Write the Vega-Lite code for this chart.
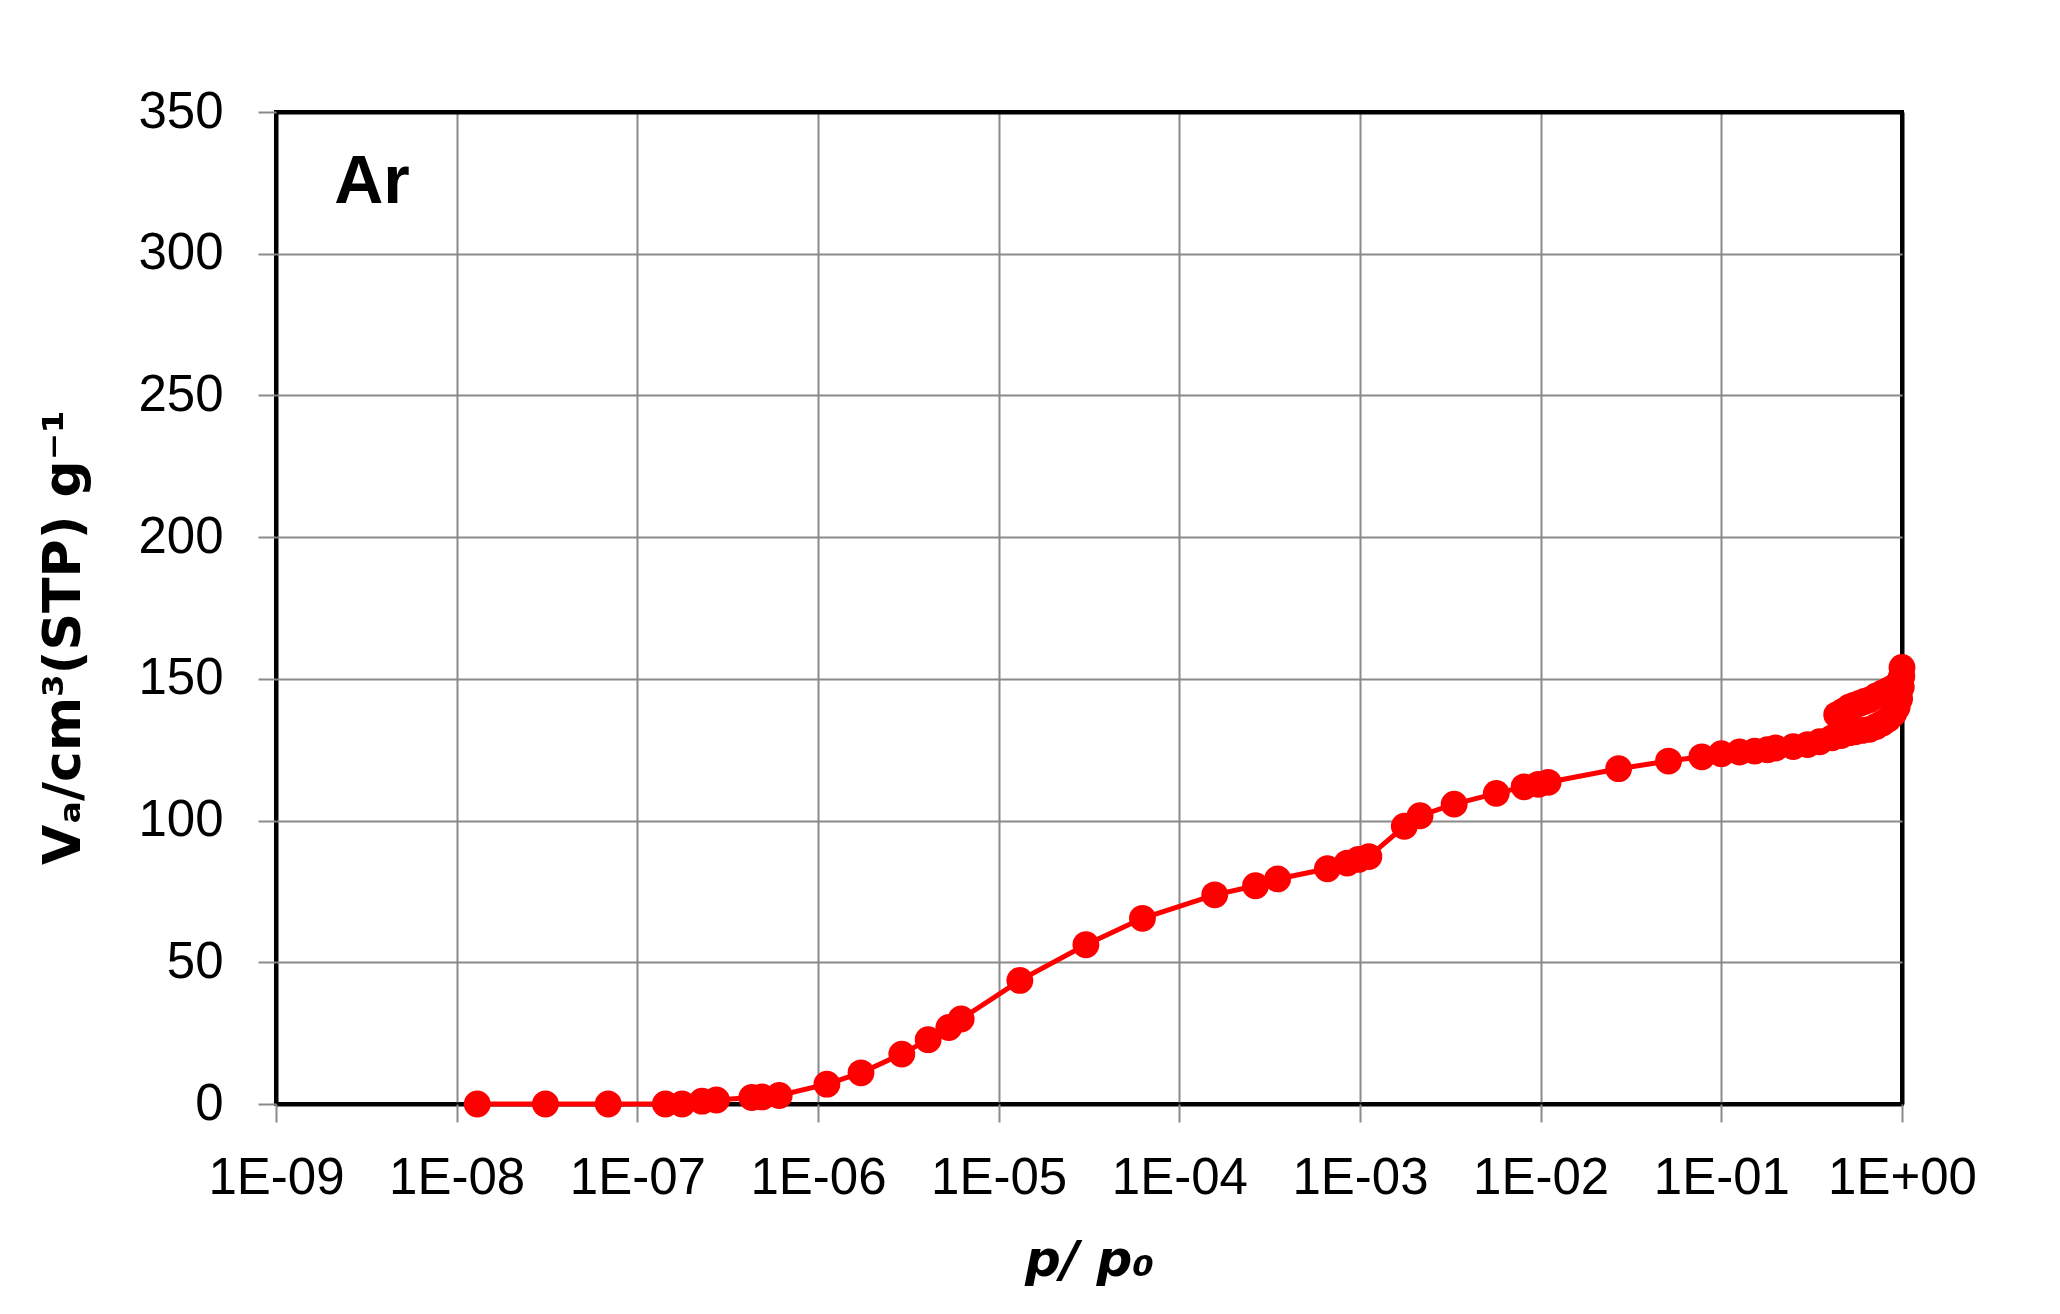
{
  "$schema": "https://vega.github.io/schema/vega-lite/v6.json",
  "width": 1626,
  "height": 992,
  "autosize": {"type": "none"},
  "padding": {"left": 276, "top": 112, "right": 158, "bottom": 210},
  "background": "white",
  "datasets": {
    "iso": [
      {"i": 1, "p": 1.3e-8, "v": 0},
      {"i": 2, "p": 3.1e-8, "v": 0},
      {"i": 3, "p": 6.9e-8, "v": 0},
      {"i": 4, "p": 1.43e-7, "v": 0},
      {"i": 5, "p": 1.77e-7, "v": 0},
      {"i": 6, "p": 2.28e-7, "v": 1.0},
      {"i": 7, "p": 2.74e-7, "v": 1.4},
      {"i": 8, "p": 4.3e-7, "v": 2.3},
      {"i": 9, "p": 4.9e-7, "v": 2.5},
      {"i": 10, "p": 6.1e-7, "v": 3.0},
      {"i": 11, "p": 1.12e-6, "v": 7.0},
      {"i": 12, "p": 1.73e-6, "v": 11.0},
      {"i": 13, "p": 2.91e-6, "v": 17.6},
      {"i": 14, "p": 4.07e-6, "v": 22.7},
      {"i": 15, "p": 5.3e-6, "v": 27.0},
      {"i": 16, "p": 6.2e-6, "v": 30.0},
      {"i": 17, "p": 1.31e-5, "v": 43.6},
      {"i": 18, "p": 3.04e-5, "v": 56.2},
      {"i": 19, "p": 6.25e-5, "v": 65.5},
      {"i": 20, "p": 1.57e-4, "v": 73.8},
      {"i": 21, "p": 2.64e-4, "v": 77.0},
      {"i": 22, "p": 3.5e-4, "v": 79.4},
      {"i": 23, "p": 6.6e-4, "v": 83.0},
      {"i": 24, "p": 8.5e-4, "v": 85.0},
      {"i": 25, "p": 9.8e-4, "v": 86.3},
      {"i": 26, "p": 1.12e-3, "v": 87.3},
      {"i": 27, "p": 1.76e-3, "v": 98.0},
      {"i": 28, "p": 2.15e-3, "v": 101.7},
      {"i": 29, "p": 3.32e-3, "v": 105.8},
      {"i": 30, "p": 5.68e-3, "v": 109.6},
      {"i": 31, "p": 8.1e-3, "v": 111.9},
      {"i": 32, "p": 9.7e-3, "v": 112.8},
      {"i": 33, "p": 1.1e-2, "v": 113.5},
      {"i": 34, "p": 2.7e-2, "v": 118.3},
      {"i": 35, "p": 5.1e-2, "v": 121.0},
      {"i": 36, "p": 7.8e-2, "v": 122.5},
      {"i": 37, "p": 0.1, "v": 123.6},
      {"i": 38, "p": 0.126, "v": 124.2},
      {"i": 39, "p": 0.153, "v": 124.5},
      {"i": 40, "p": 0.18, "v": 125.0},
      {"i": 41, "p": 0.2, "v": 125.6},
      {"i": 42, "p": 0.25, "v": 126.1},
      {"i": 43, "p": 0.3, "v": 126.8},
      {"i": 44, "p": 0.35, "v": 127.8},
      {"i": 45, "p": 0.41, "v": 129.2},
      {"i": 46, "p": 0.46, "v": 130.0},
      {"i": 47, "p": 0.51, "v": 131.0},
      {"i": 48, "p": 0.55, "v": 131.3},
      {"i": 49, "p": 0.6, "v": 131.8},
      {"i": 50, "p": 0.66, "v": 132.2},
      {"i": 51, "p": 0.72, "v": 133.2},
      {"i": 52, "p": 0.78, "v": 134.4},
      {"i": 53, "p": 0.84, "v": 135.8},
      {"i": 54, "p": 0.9, "v": 137.8},
      {"i": 55, "p": 0.94, "v": 140.0},
      {"i": 56, "p": 0.97, "v": 143.0},
      {"i": 57, "p": 0.99, "v": 147.0},
      {"i": 58, "p": 0.998, "v": 151.0},
      {"i": 59, "p": 1.0, "v": 154.0},
      {"i": 60, "p": 0.99, "v": 150.5},
      {"i": 61, "p": 0.96, "v": 148.5},
      {"i": 62, "p": 0.93, "v": 147.6},
      {"i": 63, "p": 0.9, "v": 147.0},
      {"i": 64, "p": 0.84, "v": 146.0},
      {"i": 65, "p": 0.78, "v": 145.0},
      {"i": 66, "p": 0.72, "v": 144.0},
      {"i": 67, "p": 0.66, "v": 142.6},
      {"i": 68, "p": 0.62, "v": 142.0},
      {"i": 69, "p": 0.58, "v": 141.3},
      {"i": 70, "p": 0.54, "v": 140.6},
      {"i": 71, "p": 0.51, "v": 140.0},
      {"i": 72, "p": 0.47, "v": 138.5},
      {"i": 73, "p": 0.435, "v": 137.3}
    ],
    "label": [
      {"text": "Ar", "p": 2.1e-9, "v": 318}
    ]
  },
  "layer": [
    {
      "data": {"name": "iso"},
      "mark": {"type": "line", "color": "#ff0000", "strokeWidth": 5},
      "encoding": {
        "x": {"field": "p", "type": "quantitative"},
        "y": {"field": "v", "type": "quantitative"},
        "order": {"field": "i", "type": "quantitative"}
      }
    },
    {
      "data": {"name": "iso"},
      "mark": {"type": "point", "filled": true, "color": "#ff0000", "opacity": 1, "size": 720},
      "encoding": {
        "x": {"field": "p", "type": "quantitative"},
        "y": {"field": "v", "type": "quantitative"}
      }
    },
    {
      "data": {"name": "label"},
      "mark": {"type": "text", "align": "left", "baseline": "alphabetic", "font": "Liberation Sans", "fontWeight": "bold", "fontSize": 68, "color": "black"},
      "encoding": {
        "x": {"field": "p", "type": "quantitative"},
        "y": {"field": "v", "type": "quantitative"},
        "text": {"field": "text"}
      }
    }
  ],
  "resolve": {"scale": {"x": "shared", "y": "shared"}},
  "encoding": {
    "x": {
      "field": "p",
      "type": "quantitative",
      "scale": {"type": "log", "domain": [1e-9, 1], "nice": false},
      "axis": {
        "title": "p/ p₀",
        "values": [1e-9, 1e-8, 1e-7, 1e-6, 1e-5, 1e-4, 1e-3, 1e-2, 1e-1, 1],
        "labelExpr": "'1E' + (round(log(datum.value) / LN10) < 0 ? '-' : '+') + '0' + abs(round(log(datum.value) / LN10))",
        "labelFlush": false,
        "labelOverlap": false,
        "labelPadding": 31,
        "gridColor": {"condition": {"test": "datum.value <= 1.01e-9 || datum.value >= 0.99", "value": "black"}, "value": "#8a8a8a"},
        "gridWidth": {"condition": {"test": "datum.value <= 1.01e-9 || datum.value >= 0.99", "value": 4}, "value": 2},
        "titleFontStyle": "italic",
        "titleFontSize": 50,
        "titleBaseline": "alphabetic",
        "titleY": 171
      }
    },
    "y": {
      "field": "v",
      "type": "quantitative",
      "scale": {"domain": [0, 350], "nice": false, "zero": true},
      "axis": {
        "title": "Vₐ/cm³(STP) g⁻¹",
        "values": [0, 50, 100, 150, 200, 250, 300, 350],
        "labelPadding": 35,
        "gridColor": {"condition": {"test": "datum.value == 0 || datum.value == 350", "value": "black"}, "value": "#8a8a8a"},
        "gridWidth": {"condition": {"test": "datum.value == 0 || datum.value == 350", "value": 4}, "value": 2},
        "titleFontSize": 52,
        "titleBaseline": "alphabetic",
        "titleX": -197,
        "titleY": 525
      }
    }
  },
  "config": {
    "view": {"stroke": "black", "strokeWidth": 4},
    "axis": {
      "domain": false,
      "grid": true,
      "gridOpacity": 1,
      "ticks": true,
      "tickColor": "#8a8a8a",
      "tickWidth": 2,
      "tickSize": 18,
      "labelFont": "Liberation Sans",
      "labelFontSize": 51,
      "labelColor": "black",
      "titleFont": "DejaVu Sans",
      "titleFontWeight": "bold",
      "titleColor": "black"
    }
  }
}
